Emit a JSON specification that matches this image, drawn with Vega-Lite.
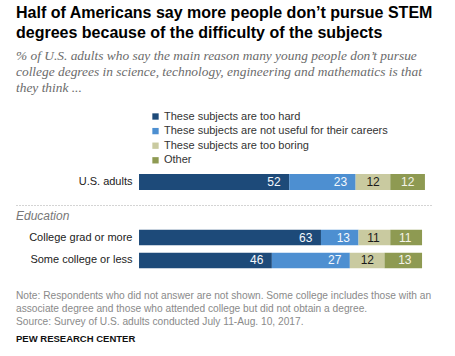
{
  "$schema": "https://vega.github.io/schema/vega-lite/v6.json",
  "background": "white",
  "padding": {"left": 16, "top": 4, "right": 6, "bottom": 4},
  "spacing": 5,
  "config": {
    "font": "Liberation Sans",
    "view": {"stroke": null},
    "axis": {"grid": false}
  },
  "title": {
    "text": [
      "Note: Respondents who did not answer are not shown. Some college includes those with an",
      "associate degree and those who attended college but did not obtain a degree.",
      "Source: Survey of U.S. adults conducted July 11-Aug. 10, 2017."
    ],
    "subtitle": "PEW RESEARCH CENTER",
    "orient": "bottom",
    "anchor": "start",
    "offset": 20,
    "font": "Liberation Sans",
    "fontSize": 10.2,
    "fontWeight": "normal",
    "color": "#8a8a8a",
    "lineHeight": 13,
    "subtitleFont": "Liberation Sans",
    "subtitleFontSize": 9.5,
    "subtitleFontWeight": "bold",
    "subtitleColor": "#111111",
    "subtitlePadding": 7
  },
  "vconcat": [
    {
      "width": 415,
      "height": 31,
      "title": {
        "text": ["Half of Americans say more people don’t pursue STEM", "degrees because of the difficulty of the subjects"],
        "subtitle": ["% of U.S. adults who say the main reason many young people don’t pursue", "college degrees in science, technology, engineering and mathematics is that", "they think ..."],
        "anchor": "start",
        "offset": 80,
        "font": "Liberation Sans",
        "fontSize": 16,
        "fontWeight": "bold",
        "color": "#000000",
        "lineHeight": 20,
        "subtitleFont": "Liberation Serif",
        "subtitleFontStyle": "italic",
        "subtitleFontSize": 13.4,
        "subtitleColor": "#6b6b6b",
        "subtitleLineHeight": 16,
        "subtitlePadding": 8
      },
      "data": {"values": [
        {"group": "U.S. adults", "reason": "These subjects are too hard", "rank": 1, "value": 52},
        {"group": "U.S. adults", "reason": "These subjects are not useful for their careers", "rank": 2, "value": 23},
        {"group": "U.S. adults", "reason": "These subjects are too boring", "rank": 3, "value": 12},
        {"group": "U.S. adults", "reason": "Other", "rank": 4, "value": 12}
      ]},
      "transform": [
        {"stack": "value", "groupby": ["group"], "sort": [{"field": "rank"}], "as": ["x0", "x1"]}
      ],
      "encoding": {
        "y": {"field": "group", "type": "nominal",
          "scale": {"paddingInner": 0, "paddingOuter": 0.46875, "align": 0},
          "axis": {"title": null, "domain": false, "ticks": false, "offset": -123, "labelPadding": 7, "labelFontSize": 11, "labelColor": "#222222", "labelFont": "Liberation Sans"}}
      },
      "layer": [
        {
          "mark": {"type": "bar"},
          "encoding": {
            "x": {"field": "x0", "type": "quantitative", "scale": {"domain": [-42.6, 101.1], "nice": false, "zero": false},
              "axis": {"orient": "bottom", "labels": false, "ticks": false, "title": null, "domain": true, "domainColor": "#a8a8a8", "domainDash": [1, 2], "domainWidth": 1}},
            "x2": {"field": "x1"},
            "color": {"field": "reason", "type": "nominal",
              "scale": {"domain": ["These subjects are too hard", "These subjects are not useful for their careers", "These subjects are too boring", "Other"],
                        "range": ["#1d4a79", "#4d8fd1", "#c9caa0", "#8e9a52"]},
              "legend": {"orient": "none", "legendX": 134, "legendY": -63, "title": null, "symbolType": "square", "symbolSize": 40, "symbolStrokeWidth": 0, "labelFontSize": 11, "labelColor": "#333333", "labelFont": "Liberation Sans", "rowPadding": 2.6, "labelOffset": 3, "labelLimit": 400}}
          }
        },
        {
          "transform": [{"filter": "datum.rank <= 2"}],
          "mark": {"type": "text", "align": "right", "baseline": "middle", "dx": -8.5, "fontSize": 12, "color": "#f4f8fc"},
          "encoding": {
            "x": {"field": "x1", "type": "quantitative", "scale": {"domain": [-42.6, 101.1], "nice": false, "zero": false},
              "axis": {"orient": "bottom", "labels": false, "ticks": false, "title": null, "domain": true, "domainColor": "#a8a8a8", "domainDash": [1, 2], "domainWidth": 1}},
            "text": {"field": "value", "type": "quantitative"}
          }
        },
        {
          "transform": [{"filter": "datum.rank >= 3"}],
          "mark": {"type": "text", "align": "right", "baseline": "middle", "dx": -10.5, "fontSize": 12},
          "encoding": {
            "x": {"field": "x1", "type": "quantitative", "scale": {"domain": [-42.6, 101.1], "nice": false, "zero": false},
              "axis": {"orient": "bottom", "labels": false, "ticks": false, "title": null, "domain": true, "domainColor": "#a8a8a8", "domainDash": [1, 2], "domainWidth": 1}},
            "text": {"field": "value", "type": "quantitative"},
            "color": {"condition": {"test": "datum.rank === 3", "value": "#1a1a1a"}, "value": "#f4f4ea"}
          }
        }
      ]
    },
    {
      "width": 415,
      "height": 44,
      "title": {"text": "Education", "anchor": "start", "offset": 4, "font": "Liberation Sans", "fontSize": 12, "fontStyle": "italic", "fontWeight": "normal", "color": "#777777"},
      "data": {"values": [
        {"group": "College grad or more", "reason": "These subjects are too hard", "rank": 1, "value": 63},
        {"group": "College grad or more", "reason": "These subjects are not useful for their careers", "rank": 2, "value": 13},
        {"group": "College grad or more", "reason": "These subjects are too boring", "rank": 3, "value": 11},
        {"group": "College grad or more", "reason": "Other", "rank": 4, "value": 11},
        {"group": "Some college or less", "reason": "These subjects are too hard", "rank": 1, "value": 46},
        {"group": "Some college or less", "reason": "These subjects are not useful for their careers", "rank": 2, "value": 27},
        {"group": "Some college or less", "reason": "These subjects are too boring", "rank": 3, "value": 12},
        {"group": "Some college or less", "reason": "Other", "rank": 4, "value": 13}
      ]},
      "transform": [
        {"stack": "value", "groupby": ["group"], "sort": [{"field": "rank"}], "as": ["x0", "x1"]}
      ],
      "encoding": {
        "y": {"field": "group", "type": "nominal",
          "scale": {"paddingInner": 0.326, "paddingOuter": 0.12},
          "axis": {"title": null, "domain": false, "ticks": false, "offset": -123, "labelPadding": 7, "labelFontSize": 11, "labelColor": "#222222", "labelFont": "Liberation Sans"}}
      },
      "layer": [
        {
          "mark": {"type": "bar"},
          "encoding": {
            "x": {"field": "x0", "type": "quantitative", "scale": {"domain": [-42.6, 101.1], "nice": false, "zero": false}, "axis": null},
            "x2": {"field": "x1"},
            "color": {"field": "reason", "type": "nominal",
              "scale": {"domain": ["These subjects are too hard", "These subjects are not useful for their careers", "These subjects are too boring", "Other"],
                        "range": ["#1d4a79", "#4d8fd1", "#c9caa0", "#8e9a52"]},
              "legend": {"orient": "none", "legendX": 134, "legendY": -63, "title": null, "symbolType": "square", "symbolSize": 40, "symbolStrokeWidth": 0, "labelFontSize": 11, "labelColor": "#333333", "labelFont": "Liberation Sans", "rowPadding": 2.6, "labelOffset": 3, "labelLimit": 400}}
          }
        },
        {
          "transform": [{"filter": "datum.rank <= 2"}],
          "mark": {"type": "text", "align": "right", "baseline": "middle", "dx": -8.5, "fontSize": 12, "color": "#f4f8fc"},
          "encoding": {
            "x": {"field": "x1", "type": "quantitative", "scale": {"domain": [-42.6, 101.1], "nice": false, "zero": false}, "axis": null},
            "text": {"field": "value", "type": "quantitative"}
          }
        },
        {
          "transform": [{"filter": "datum.rank >= 3"}],
          "mark": {"type": "text", "align": "right", "baseline": "middle", "dx": -10.5, "fontSize": 12},
          "encoding": {
            "x": {"field": "x1", "type": "quantitative", "scale": {"domain": [-42.6, 101.1], "nice": false, "zero": false}, "axis": null},
            "text": {"field": "value", "type": "quantitative"},
            "color": {"condition": {"test": "datum.rank === 3", "value": "#1a1a1a"}, "value": "#f4f4ea"}
          }
        }
      ]
    }
  ]
}
